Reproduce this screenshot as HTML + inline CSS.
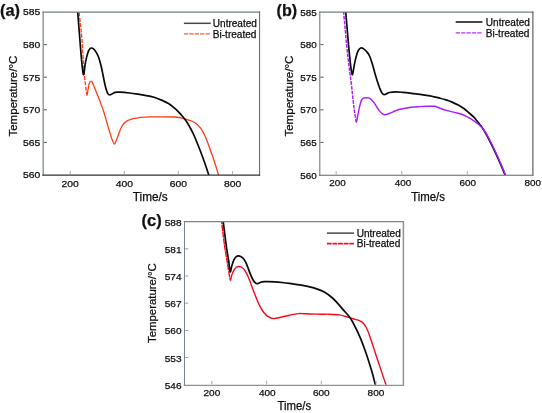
<!DOCTYPE html>
<html lang="en"><head><meta charset="utf-8"><title>Cooling curves: untreated vs Bi-treated</title>
<style>html,body{margin:0;padding:0;background:#fff;}body{width:542px;height:413px;overflow:hidden;}svg{display:block}</style>
</head><body>
<svg width="542" height="413" viewBox="0 0 542 413" font-family='"Liberation Sans", sans-serif' style="display:block">
<rect width="542" height="413" fill="#ffffff"/>
<clipPath id="clipa"><rect x="43.2" y="12.0" width="216.40000000000003" height="163.0"/></clipPath>
<g clip-path="url(#clipa)" fill="none" stroke-linejoin="round" stroke-linecap="butt">
<path d="M78.10,2.00 C78.27,3.67 78.68,8.00 79.10,12.00 C79.52,16.00 80.12,21.33 80.60,26.00 C81.08,30.67 81.62,35.33 82.00,40.00 C82.38,44.67 82.62,49.67 82.90,54.00 C83.18,58.33 83.43,62.22 83.70,66.00 C83.97,69.78 84.20,73.55 84.50,76.70 C84.80,79.85 85.18,82.43 85.50,84.90 C85.82,87.37 86.15,89.78 86.40,91.50 C86.65,93.22 86.73,95.47 87.00,95.20" stroke="#ff3c12" stroke-width="1.3" stroke-dasharray="4 1.3"/>
<path d="M87.00,95.20 C87.27,94.93 87.63,91.82 88.00,89.90 C88.37,87.98 88.72,85.15 89.20,83.70 C89.68,82.25 90.35,81.33 90.90,81.20 C91.45,81.07 91.88,81.80 92.50,82.90 C93.12,84.00 93.83,85.95 94.60,87.80 C95.37,89.65 96.28,91.97 97.10,94.00 C97.92,96.03 98.37,96.97 99.50,100.00 C100.63,103.03 102.65,108.37 103.90,112.20 C105.15,116.03 106.02,119.62 107.00,123.00 C107.98,126.38 108.92,129.67 109.80,132.50 C110.68,135.33 111.53,138.07 112.30,140.00 C113.07,141.93 113.68,144.18 114.40,144.10 C115.12,144.02 115.80,141.43 116.60,139.50 C117.40,137.57 118.38,134.58 119.20,132.50 C120.02,130.42 120.67,128.55 121.50,127.00 C122.33,125.45 123.20,124.27 124.20,123.20 C125.20,122.13 126.37,121.25 127.50,120.60 C128.63,119.95 129.58,119.70 131.00,119.30 C132.42,118.90 134.30,118.52 136.00,118.20 C137.70,117.88 138.87,117.62 141.20,117.40 C143.53,117.18 146.87,117.00 150.00,116.90 C153.13,116.80 155.97,116.78 160.00,116.80 C164.03,116.82 170.70,116.83 174.20,117.00 C177.70,117.17 178.98,117.43 181.00,117.80 C183.02,118.17 184.55,118.67 186.30,119.20 C188.05,119.73 189.88,120.27 191.50,121.00 C193.12,121.73 194.45,122.37 196.00,123.60 C197.55,124.83 199.47,126.67 200.80,128.40 C202.13,130.13 202.98,131.98 204.00,134.00 C205.02,136.02 205.62,137.20 206.90,140.50 C208.18,143.80 210.28,149.77 211.70,153.80 C213.12,157.83 214.27,161.17 215.40,164.70 C216.53,168.23 217.68,172.28 218.50,175.00 C219.32,177.72 220.00,180.00 220.30,181.00" stroke="#ff3c12" stroke-width="1.3"/>
<path d="M76.90,2.00 C77.03,3.67 77.38,8.00 77.70,12.00 C78.02,16.00 78.43,21.33 78.80,26.00 C79.17,30.67 79.50,35.00 79.90,40.00 C80.30,45.00 80.75,51.00 81.20,56.00 C81.65,61.00 82.23,66.88 82.60,70.00 C82.97,73.12 83.12,74.53 83.40,74.70 C83.68,74.87 84.02,72.67 84.30,71.00 C84.58,69.33 84.75,66.85 85.10,64.70 C85.45,62.55 85.92,60.15 86.40,58.10 C86.88,56.05 87.45,53.90 88.00,52.40 C88.55,50.90 89.15,49.83 89.70,49.10 C90.25,48.37 90.62,48.00 91.30,48.00 C91.98,48.00 92.98,48.37 93.80,49.10 C94.62,49.83 95.45,51.17 96.20,52.40 C96.95,53.63 97.68,55.00 98.30,56.50 C98.92,58.00 99.35,59.48 99.90,61.40 C100.45,63.32 101.12,65.90 101.60,68.00 C102.08,70.10 102.32,71.58 102.80,74.00 C103.28,76.42 103.95,79.98 104.50,82.50 C105.05,85.02 105.55,87.25 106.10,89.10 C106.65,90.95 107.18,92.62 107.80,93.60 C108.42,94.58 108.98,95.00 109.80,95.00 C110.62,95.00 111.80,94.05 112.70,93.60 C113.60,93.15 113.98,92.53 115.20,92.30 C116.42,92.07 117.65,92.08 120.00,92.20 C122.35,92.32 126.30,92.67 129.30,93.00 C132.30,93.33 135.17,93.77 138.00,94.20 C140.83,94.63 143.63,95.10 146.30,95.60 C148.97,96.10 151.37,96.40 154.00,97.20 C156.63,98.00 159.68,99.33 162.10,100.40 C164.52,101.47 166.48,102.37 168.50,103.60 C170.52,104.83 172.62,106.52 174.20,107.80 C175.78,109.08 176.78,110.08 178.00,111.30 C179.22,112.52 180.12,113.45 181.50,115.10 C182.88,116.75 184.88,119.13 186.30,121.20 C187.72,123.27 188.78,125.28 190.00,127.50 C191.22,129.72 192.00,130.92 193.60,134.50 C195.20,138.08 197.78,144.37 199.60,149.00 C201.42,153.63 202.97,157.97 204.50,162.30 C206.03,166.63 207.75,171.88 208.80,175.00 C209.85,178.12 210.47,180.00 210.80,181.00" stroke="#0a0a0a" stroke-width="1.7"/>
</g>
<line x1="43.2" y1="11.5" x2="43.2" y2="175.65" stroke="#87959a" stroke-width="1.4"/>
<line x1="42.5" y1="12.0" x2="260.1" y2="12.0" stroke="#727f82" stroke-width="1.25"/>
<line x1="259.6" y1="11.5" x2="259.6" y2="175.65" stroke="#59636a" stroke-width="1.0"/>
<line x1="42.300000000000004" y1="175.15" x2="260.1" y2="175.15" stroke="#2c3439" stroke-width="1.15"/>
<text x="40.20" y="15.30" font-size="9.7" text-anchor="end" fill="#0d0d0d" stroke="#0d0d0d" stroke-width="0.25" textLength="17.30" lengthAdjust="spacingAndGlyphs">585</text>
<line x1="43.800000000000004" y1="44.60" x2="47.0" y2="44.60" stroke="#30363a" stroke-width="0.8"/>
<text x="40.20" y="47.90" font-size="9.7" text-anchor="end" fill="#0d0d0d" stroke="#0d0d0d" stroke-width="0.25" textLength="17.30" lengthAdjust="spacingAndGlyphs">580</text>
<line x1="43.800000000000004" y1="77.20" x2="47.0" y2="77.20" stroke="#30363a" stroke-width="0.8"/>
<text x="40.20" y="80.50" font-size="9.7" text-anchor="end" fill="#0d0d0d" stroke="#0d0d0d" stroke-width="0.25" textLength="17.30" lengthAdjust="spacingAndGlyphs">575</text>
<line x1="43.800000000000004" y1="109.80" x2="47.0" y2="109.80" stroke="#30363a" stroke-width="0.8"/>
<text x="40.20" y="113.10" font-size="9.7" text-anchor="end" fill="#0d0d0d" stroke="#0d0d0d" stroke-width="0.25" textLength="17.30" lengthAdjust="spacingAndGlyphs">570</text>
<line x1="43.800000000000004" y1="142.40" x2="47.0" y2="142.40" stroke="#30363a" stroke-width="0.8"/>
<text x="40.20" y="145.70" font-size="9.7" text-anchor="end" fill="#0d0d0d" stroke="#0d0d0d" stroke-width="0.25" textLength="17.30" lengthAdjust="spacingAndGlyphs">565</text>
<text x="40.20" y="178.30" font-size="9.7" text-anchor="end" fill="#0d0d0d" stroke="#0d0d0d" stroke-width="0.25" textLength="17.30" lengthAdjust="spacingAndGlyphs">560</text>
<line x1="70.25" y1="171.0" x2="70.25" y2="174.5" stroke="#8b9ba1" stroke-width="0.8"/>
<text x="70.25" y="186.75" font-size="9.7" text-anchor="middle" fill="#0d0d0d" stroke="#0d0d0d" stroke-width="0.25" textLength="17.30" lengthAdjust="spacingAndGlyphs">200</text>
<line x1="124.35" y1="171.0" x2="124.35" y2="174.5" stroke="#8b9ba1" stroke-width="0.8"/>
<text x="124.35" y="186.75" font-size="9.7" text-anchor="middle" fill="#0d0d0d" stroke="#0d0d0d" stroke-width="0.25" textLength="17.30" lengthAdjust="spacingAndGlyphs">400</text>
<line x1="178.45" y1="171.0" x2="178.45" y2="174.5" stroke="#8b9ba1" stroke-width="0.8"/>
<text x="178.45" y="186.75" font-size="9.7" text-anchor="middle" fill="#0d0d0d" stroke="#0d0d0d" stroke-width="0.25" textLength="17.30" lengthAdjust="spacingAndGlyphs">600</text>
<line x1="232.55" y1="171.0" x2="232.55" y2="174.5" stroke="#8b9ba1" stroke-width="0.8"/>
<text x="232.55" y="186.75" font-size="9.7" text-anchor="middle" fill="#0d0d0d" stroke="#0d0d0d" stroke-width="0.25" textLength="17.30" lengthAdjust="spacingAndGlyphs">800</text>
<text x="150.30" y="200.80" font-size="11.9" text-anchor="middle" fill="#0d0d0d" stroke="#0d0d0d" stroke-width="0.25" textLength="34.90" lengthAdjust="spacingAndGlyphs">Time/s</text>
<text x="16.85" y="136.60" font-size="11.4" text-anchor="start" fill="#0d0d0d" stroke="#0d0d0d" stroke-width="0.25" textLength="81.00" lengthAdjust="spacingAndGlyphs" transform="rotate(-90 16.85 136.60)">Temperature/°C</text>
<text x="0.00" y="15.80" font-size="15.7" text-anchor="start" fill="#111" stroke="#111" stroke-width="0.25" font-weight="bold" textLength="20.10" lengthAdjust="spacingAndGlyphs">(a)</text>
<line x1="183.9" y1="23.3" x2="210.8" y2="23.3" stroke="#45494d" stroke-width="1.5"/>
<line x1="183.9" y1="33.9" x2="210.8" y2="33.9" stroke="#ff5a30" stroke-width="1.35" stroke-dasharray="4.3 1.1"/>
<text x="212.80" y="26.90" font-size="10.0" text-anchor="start" fill="#0d0d0d" stroke="#0d0d0d" stroke-width="0.25" textLength="44.10" lengthAdjust="spacingAndGlyphs">Untreated</text>
<text x="212.80" y="37.50" font-size="10.0" text-anchor="start" fill="#0d0d0d" stroke="#0d0d0d" stroke-width="0.25" textLength="43.60" lengthAdjust="spacingAndGlyphs">Bi-treated</text>
<clipPath id="clipb"><rect x="319.8" y="12.0" width="213.09999999999997" height="163.0"/></clipPath>
<g clip-path="url(#clipb)" fill="none" stroke-linejoin="round" stroke-linecap="butt">
<path d="M344.90,2.00 C345.03,3.67 345.35,7.83 345.70,12.00 C346.05,16.17 346.58,22.17 347.00,27.00 C347.42,31.83 347.77,36.17 348.20,41.00 C348.63,45.83 349.10,51.17 349.60,56.00 C350.10,60.83 350.77,66.92 351.20,70.00 C351.63,73.08 351.92,74.00 352.20,74.50 C352.48,75.00 352.52,74.77 352.90,73.00 C353.28,71.23 353.95,66.65 354.50,63.90 C355.05,61.15 355.58,58.70 356.20,56.50 C356.82,54.30 357.45,52.12 358.20,50.70 C358.95,49.28 359.73,48.27 360.70,48.00 C361.67,47.73 362.90,48.37 364.00,49.10 C365.10,49.83 366.33,51.17 367.30,52.40 C368.27,53.63 369.05,54.87 369.80,56.50 C370.55,58.13 371.18,60.28 371.80,62.20 C372.42,64.12 372.95,66.03 373.50,68.00 C374.05,69.97 374.52,71.97 375.10,74.00 C375.68,76.03 376.18,77.72 377.00,80.20 C377.82,82.68 379.15,86.73 380.00,88.90 C380.85,91.07 381.38,92.23 382.10,93.20 C382.82,94.17 383.52,94.63 384.30,94.70 C385.08,94.77 385.95,93.97 386.80,93.60 C387.65,93.23 387.87,92.78 389.40,92.50 C390.93,92.22 393.73,91.92 396.00,91.90 C398.27,91.88 400.47,92.17 403.00,92.40 C405.53,92.63 408.37,92.97 411.20,93.30 C414.03,93.63 416.87,93.97 420.00,94.40 C423.13,94.83 426.67,95.27 430.00,95.90 C433.33,96.53 437.32,97.53 440.00,98.20 C442.68,98.87 444.08,99.25 446.10,99.90 C448.12,100.55 450.08,101.23 452.10,102.10 C454.12,102.97 456.18,103.98 458.20,105.10 C460.22,106.22 462.38,107.48 464.20,108.80 C466.02,110.12 467.48,111.60 469.10,113.00 C470.72,114.40 472.50,115.78 473.90,117.20 C475.30,118.62 476.28,119.98 477.50,121.50 C478.72,123.02 479.98,124.58 481.20,126.30 C482.42,128.02 483.60,129.78 484.80,131.80 C486.00,133.82 486.63,134.93 488.40,138.40 C490.17,141.87 493.43,148.42 495.40,152.60 C497.37,156.78 498.60,159.78 500.20,163.50 C501.80,167.22 503.80,171.98 505.00,174.90 C506.20,177.82 507.00,179.98 507.40,181.00" stroke="#0a0a0a" stroke-width="1.7"/>
<path d="M342.70,2.00 C342.85,3.67 343.22,7.83 343.60,12.00 C343.98,16.17 344.55,22.17 345.00,27.00 C345.45,31.83 345.85,36.33 346.30,41.00 C346.75,45.67 347.25,50.83 347.70,55.00 C348.15,59.17 348.62,62.83 349.00,66.00 C349.38,69.17 349.57,70.67 350.00,74.00 C350.43,77.33 350.97,80.62 351.60,86.00 C352.23,91.38 353.18,101.22 353.80,106.30 C354.42,111.38 354.88,113.83 355.30,116.50 C355.72,119.17 355.92,122.38 356.30,122.30" stroke="#a91cff" stroke-width="1.45" stroke-dasharray="3.6 1.1"/>
<path d="M356.30,122.30 C356.68,122.22 357.22,117.83 357.60,116.00 C357.98,114.17 358.22,113.07 358.60,111.30 C358.98,109.53 359.45,107.18 359.90,105.40 C360.35,103.62 360.75,101.80 361.30,100.60 C361.85,99.40 362.37,98.67 363.20,98.20 C364.03,97.73 365.27,97.80 366.30,97.80 C367.33,97.80 368.33,97.68 369.40,98.20 C370.47,98.72 371.68,99.80 372.70,100.90 C373.72,102.00 374.38,103.13 375.50,104.80 C376.62,106.47 378.28,109.43 379.40,110.90 C380.52,112.37 381.27,112.97 382.20,113.60 C383.13,114.23 383.55,114.82 385.00,114.70 C386.45,114.58 389.23,113.52 390.90,112.90 C392.57,112.28 393.48,111.60 395.00,111.00 C396.52,110.40 397.30,109.92 400.00,109.30 C402.70,108.68 408.03,107.75 411.20,107.30 C414.37,106.85 416.30,106.77 419.00,106.60 C421.70,106.43 424.77,106.35 427.40,106.30 C430.03,106.25 433.12,106.15 434.80,106.30 C436.48,106.45 436.63,106.88 437.50,107.20 C438.37,107.52 438.37,107.63 440.00,108.20 C441.63,108.77 444.88,109.90 447.30,110.60 C449.72,111.30 452.08,111.80 454.50,112.40 C456.92,113.00 459.58,113.40 461.80,114.20 C464.02,115.00 465.78,116.08 467.80,117.20 C469.82,118.32 472.08,119.68 473.90,120.90 C475.72,122.12 477.38,123.40 478.70,124.50 C480.02,125.60 480.69,126.25 481.80,127.50 C482.91,128.75 484.15,130.17 485.35,132.00 C486.55,133.83 487.23,135.05 489.00,138.50 C490.77,141.95 493.99,148.52 495.95,152.70 C497.91,156.88 499.15,159.88 500.75,163.60 C502.35,167.32 504.35,172.10 505.55,175.00 C506.75,177.90 507.55,180.00 507.95,181.00" stroke="#a91cff" stroke-width="1.45"/>
</g>
<line x1="319.8" y1="11.5" x2="319.8" y2="175.65" stroke="#6f7c80" stroke-width="1.1"/>
<line x1="319.1" y1="12.0" x2="533.4" y2="12.0" stroke="#727f82" stroke-width="1.25"/>
<line x1="532.9" y1="11.5" x2="532.9" y2="175.65" stroke="#39434a" stroke-width="1.0"/>
<line x1="318.90000000000003" y1="175.15" x2="533.4" y2="175.15" stroke="#5c666b" stroke-width="1.05"/>
<text x="316.80" y="15.50" font-size="9.7" text-anchor="end" fill="#0d0d0d" stroke="#0d0d0d" stroke-width="0.25" textLength="16.50" lengthAdjust="spacingAndGlyphs">585</text>
<line x1="320.40000000000003" y1="44.60" x2="323.6" y2="44.60" stroke="#30363a" stroke-width="0.8"/>
<text x="316.80" y="48.10" font-size="9.7" text-anchor="end" fill="#0d0d0d" stroke="#0d0d0d" stroke-width="0.25" textLength="16.50" lengthAdjust="spacingAndGlyphs">580</text>
<line x1="320.40000000000003" y1="77.20" x2="323.6" y2="77.20" stroke="#30363a" stroke-width="0.8"/>
<text x="316.80" y="80.70" font-size="9.7" text-anchor="end" fill="#0d0d0d" stroke="#0d0d0d" stroke-width="0.25" textLength="16.50" lengthAdjust="spacingAndGlyphs">575</text>
<line x1="320.40000000000003" y1="109.80" x2="323.6" y2="109.80" stroke="#30363a" stroke-width="0.8"/>
<text x="316.80" y="113.30" font-size="9.7" text-anchor="end" fill="#0d0d0d" stroke="#0d0d0d" stroke-width="0.25" textLength="16.50" lengthAdjust="spacingAndGlyphs">570</text>
<line x1="320.40000000000003" y1="142.40" x2="323.6" y2="142.40" stroke="#30363a" stroke-width="0.8"/>
<text x="316.80" y="145.90" font-size="9.7" text-anchor="end" fill="#0d0d0d" stroke="#0d0d0d" stroke-width="0.25" textLength="16.50" lengthAdjust="spacingAndGlyphs">565</text>
<text x="316.80" y="178.50" font-size="9.7" text-anchor="end" fill="#0d0d0d" stroke="#0d0d0d" stroke-width="0.25" textLength="16.50" lengthAdjust="spacingAndGlyphs">560</text>
<line x1="336.19" y1="171.0" x2="336.19" y2="174.5" stroke="#8b9ba1" stroke-width="0.8"/>
<text x="337.50" y="186.30" font-size="9.7" text-anchor="middle" fill="#0d0d0d" stroke="#0d0d0d" stroke-width="0.25" textLength="16.50" lengthAdjust="spacingAndGlyphs">200</text>
<line x1="401.76" y1="171.0" x2="401.76" y2="174.5" stroke="#8b9ba1" stroke-width="0.8"/>
<text x="403.00" y="186.30" font-size="9.7" text-anchor="middle" fill="#0d0d0d" stroke="#0d0d0d" stroke-width="0.25" textLength="16.50" lengthAdjust="spacingAndGlyphs">400</text>
<line x1="467.33" y1="171.0" x2="467.33" y2="174.5" stroke="#8b9ba1" stroke-width="0.8"/>
<text x="467.80" y="186.30" font-size="9.7" text-anchor="middle" fill="#0d0d0d" stroke="#0d0d0d" stroke-width="0.25" textLength="16.50" lengthAdjust="spacingAndGlyphs">600</text>
<line x1="532.90" y1="171.0" x2="532.90" y2="174.5" stroke="#8b9ba1" stroke-width="0.8"/>
<text x="532.70" y="186.30" font-size="9.7" text-anchor="middle" fill="#0d0d0d" stroke="#0d0d0d" stroke-width="0.25" textLength="16.50" lengthAdjust="spacingAndGlyphs">800</text>
<text x="428.10" y="200.80" font-size="11.9" text-anchor="middle" fill="#0d0d0d" stroke="#0d0d0d" stroke-width="0.25" textLength="33.80" lengthAdjust="spacingAndGlyphs">Time/s</text>
<text x="292.90" y="136.60" font-size="11.4" text-anchor="start" fill="#0d0d0d" stroke="#0d0d0d" stroke-width="0.25" textLength="81.00" lengthAdjust="spacingAndGlyphs" transform="rotate(-90 292.90 136.60)">Temperature/°C</text>
<text x="276.60" y="15.80" font-size="15.7" text-anchor="start" fill="#111" stroke="#111" stroke-width="0.25" font-weight="bold" textLength="20.60" lengthAdjust="spacingAndGlyphs">(b)</text>
<line x1="455.7" y1="22.0" x2="482.4" y2="22.0" stroke="#0a0a0a" stroke-width="1.5"/>
<line x1="455.7" y1="32.8" x2="482.4" y2="32.8" stroke="#b432ff" stroke-width="1.35" stroke-dasharray="4.3 1.1"/>
<text x="485.80" y="25.90" font-size="10.0" text-anchor="start" fill="#0d0d0d" stroke="#0d0d0d" stroke-width="0.25" textLength="44.10" lengthAdjust="spacingAndGlyphs">Untreated</text>
<text x="485.80" y="36.50" font-size="10.0" text-anchor="start" fill="#0d0d0d" stroke="#0d0d0d" stroke-width="0.25" textLength="43.60" lengthAdjust="spacingAndGlyphs">Bi-treated</text>
<clipPath id="clipc"><rect x="184.5" y="221.6" width="218.89999999999998" height="163.20000000000002"/></clipPath>
<g clip-path="url(#clipc)" fill="none" stroke-linejoin="round" stroke-linecap="butt">
<path d="M220.20,212.00 C220.43,213.58 221.08,217.50 221.60,221.50 C222.12,225.50 222.75,231.58 223.30,236.00 C223.85,240.42 224.27,243.80 224.90,248.00 C225.53,252.20 226.38,256.80 227.10,261.20 C227.82,265.60 228.65,271.18 229.20,274.40 C229.75,277.62 229.98,280.33 230.40,280.50" stroke="#f80818" stroke-width="1.4" stroke-dasharray="6 0.6"/>
<path d="M230.40,280.50 C230.82,280.67 231.13,277.08 231.70,275.40 C232.27,273.72 233.03,271.75 233.80,270.40 C234.57,269.05 235.47,267.95 236.30,267.30 C237.13,266.65 237.78,266.42 238.80,266.50 C239.82,266.58 241.30,266.98 242.40,267.80 C243.50,268.62 244.38,269.78 245.40,271.40 C246.42,273.02 247.62,275.52 248.50,277.50 C249.38,279.48 249.62,280.43 250.70,283.30 C251.78,286.17 253.52,290.98 255.00,294.70 C256.48,298.42 258.10,302.60 259.60,305.60 C261.10,308.60 262.57,310.87 264.00,312.70 C265.43,314.53 266.60,315.62 268.20,316.60 C269.80,317.58 271.50,318.48 273.60,318.60 C275.70,318.72 278.15,317.87 280.80,317.30 C283.45,316.73 286.60,315.82 289.50,315.20 C292.40,314.58 295.78,313.85 298.20,313.60 C300.62,313.35 302.03,313.63 304.00,313.70 C305.97,313.77 307.08,313.92 310.00,314.00 C312.92,314.08 318.33,314.17 321.50,314.20 C324.67,314.23 326.05,314.08 329.00,314.20 C331.95,314.32 336.53,314.55 339.20,314.90 C341.87,315.25 343.07,315.77 345.00,316.30 C346.93,316.83 349.13,317.60 350.80,318.10 C352.47,318.60 353.57,318.87 355.00,319.30 C356.43,319.73 358.02,320.05 359.40,320.70 C360.78,321.35 362.17,322.07 363.30,323.20 C364.43,324.33 365.23,325.67 366.20,327.50 C367.17,329.33 367.97,331.13 369.10,334.20 C370.23,337.27 371.72,342.02 373.00,345.90 C374.28,349.78 375.52,353.63 376.80,357.50 C378.08,361.37 379.57,365.70 380.70,369.10 C381.83,372.50 382.72,375.30 383.60,377.90 C384.48,380.50 385.18,382.35 386.00,384.70 C386.82,387.05 388.08,390.78 388.50,392.00" stroke="#f80818" stroke-width="1.4"/>
<path d="M221.90,212.00 C222.12,213.58 222.68,217.50 223.20,221.50 C223.72,225.50 224.43,231.58 225.00,236.00 C225.57,240.42 225.98,243.80 226.60,248.00 C227.22,252.20 228.10,257.22 228.70,261.20 C229.30,265.18 229.70,271.05 230.20,271.90 C230.70,272.75 231.10,268.25 231.70,266.30 C232.30,264.35 233.03,261.82 233.80,260.20 C234.57,258.58 235.47,257.32 236.30,256.60 C237.13,255.88 237.78,255.72 238.80,255.90 C239.82,256.08 241.30,256.73 242.40,257.70 C243.50,258.67 244.47,260.02 245.40,261.70 C246.33,263.38 247.15,265.68 248.00,267.80 C248.85,269.92 249.65,272.37 250.50,274.40 C251.35,276.43 252.25,278.55 253.10,280.00 C253.95,281.45 254.85,282.50 255.60,283.10 C256.35,283.70 256.53,283.82 257.60,283.60 C258.67,283.38 260.27,282.12 262.00,281.80 C263.73,281.48 265.83,281.68 268.00,281.70 C270.17,281.72 272.67,281.77 275.00,281.90 C277.33,282.03 279.58,282.25 282.00,282.50 C284.42,282.75 286.30,282.95 289.50,283.40 C292.70,283.85 298.00,284.65 301.20,285.20 C304.40,285.75 306.00,286.05 308.70,286.70 C311.40,287.35 314.73,288.17 317.40,289.10 C320.07,290.03 322.28,290.90 324.70,292.30 C327.12,293.70 329.73,295.67 331.90,297.50 C334.07,299.33 335.77,301.20 337.70,303.30 C339.63,305.40 341.43,307.68 343.50,310.10 C345.57,312.52 348.10,314.90 350.10,317.80 C352.10,320.70 353.78,324.12 355.50,327.50 C357.22,330.88 358.78,334.23 360.40,338.10 C362.02,341.97 363.75,346.65 365.20,350.70 C366.65,354.75 367.87,358.52 369.10,362.40 C370.33,366.28 371.57,370.28 372.60,374.00 C373.63,377.72 374.52,381.70 375.30,384.70 C376.08,387.70 376.97,390.78 377.30,392.00" stroke="#0a0a0a" stroke-width="1.7"/>
</g>
<line x1="184.5" y1="221.1" x2="184.5" y2="385.8" stroke="#76868a" stroke-width="1.05"/>
<line x1="183.8" y1="221.6" x2="403.9" y2="221.6" stroke="#7a878a" stroke-width="1.2"/>
<line x1="403.4" y1="221.1" x2="403.4" y2="385.8" stroke="#88949a" stroke-width="1.5"/>
<line x1="183.6" y1="385.3" x2="403.9" y2="385.3" stroke="#88949a" stroke-width="1.2"/>
<text x="181.50" y="225.60" font-size="9.7" text-anchor="end" fill="#0d0d0d" stroke="#0d0d0d" stroke-width="0.25" textLength="16.80" lengthAdjust="spacingAndGlyphs">588</text>
<line x1="185.1" y1="248.80" x2="188.3" y2="248.80" stroke="#7c898d" stroke-width="0.8"/>
<text x="181.50" y="252.80" font-size="9.7" text-anchor="end" fill="#0d0d0d" stroke="#0d0d0d" stroke-width="0.25" textLength="16.80" lengthAdjust="spacingAndGlyphs">581</text>
<line x1="185.1" y1="276.00" x2="188.3" y2="276.00" stroke="#7c898d" stroke-width="0.8"/>
<text x="181.50" y="280.00" font-size="9.7" text-anchor="end" fill="#0d0d0d" stroke="#0d0d0d" stroke-width="0.25" textLength="16.80" lengthAdjust="spacingAndGlyphs">574</text>
<line x1="185.1" y1="303.20" x2="188.3" y2="303.20" stroke="#7c898d" stroke-width="0.8"/>
<text x="181.50" y="307.20" font-size="9.7" text-anchor="end" fill="#0d0d0d" stroke="#0d0d0d" stroke-width="0.25" textLength="16.80" lengthAdjust="spacingAndGlyphs">567</text>
<line x1="185.1" y1="330.40" x2="188.3" y2="330.40" stroke="#7c898d" stroke-width="0.8"/>
<text x="181.50" y="334.40" font-size="9.7" text-anchor="end" fill="#0d0d0d" stroke="#0d0d0d" stroke-width="0.25" textLength="16.80" lengthAdjust="spacingAndGlyphs">560</text>
<line x1="185.1" y1="357.60" x2="188.3" y2="357.60" stroke="#7c898d" stroke-width="0.8"/>
<text x="181.50" y="361.60" font-size="9.7" text-anchor="end" fill="#0d0d0d" stroke="#0d0d0d" stroke-width="0.25" textLength="16.80" lengthAdjust="spacingAndGlyphs">553</text>
<text x="181.50" y="388.80" font-size="9.7" text-anchor="end" fill="#0d0d0d" stroke="#0d0d0d" stroke-width="0.25" textLength="16.80" lengthAdjust="spacingAndGlyphs">546</text>
<line x1="211.86" y1="380.8" x2="211.86" y2="384.3" stroke="#8b9ba1" stroke-width="0.8"/>
<text x="211.86" y="396.00" font-size="9.7" text-anchor="middle" fill="#0d0d0d" stroke="#0d0d0d" stroke-width="0.25" textLength="16.80" lengthAdjust="spacingAndGlyphs">200</text>
<line x1="266.59" y1="380.8" x2="266.59" y2="384.3" stroke="#8b9ba1" stroke-width="0.8"/>
<text x="267.30" y="396.00" font-size="9.7" text-anchor="middle" fill="#0d0d0d" stroke="#0d0d0d" stroke-width="0.25" textLength="16.80" lengthAdjust="spacingAndGlyphs">400</text>
<line x1="321.31" y1="380.8" x2="321.31" y2="384.3" stroke="#8b9ba1" stroke-width="0.8"/>
<text x="321.31" y="396.00" font-size="9.7" text-anchor="middle" fill="#0d0d0d" stroke="#0d0d0d" stroke-width="0.25" textLength="16.80" lengthAdjust="spacingAndGlyphs">600</text>
<line x1="376.04" y1="380.8" x2="376.04" y2="384.3" stroke="#8b9ba1" stroke-width="0.8"/>
<text x="376.04" y="396.00" font-size="9.7" text-anchor="middle" fill="#0d0d0d" stroke="#0d0d0d" stroke-width="0.25" textLength="16.80" lengthAdjust="spacingAndGlyphs">800</text>
<text x="294.30" y="410.20" font-size="11.9" text-anchor="middle" fill="#0d0d0d" stroke="#0d0d0d" stroke-width="0.25" textLength="33.60" lengthAdjust="spacingAndGlyphs">Time/s</text>
<text x="155.60" y="342.90" font-size="11.4" text-anchor="start" fill="#0d0d0d" stroke="#0d0d0d" stroke-width="0.25" textLength="79.60" lengthAdjust="spacingAndGlyphs" transform="rotate(-90 155.60 342.90)">Temperature/°C</text>
<text x="141.50" y="225.70" font-size="15.7" text-anchor="start" fill="#111" stroke="#111" stroke-width="0.25" font-weight="bold" textLength="20.20" lengthAdjust="spacingAndGlyphs">(c)</text>
<line x1="326.9" y1="233.1" x2="354.1" y2="233.1" stroke="#1a1a1a" stroke-width="1.2"/>
<line x1="326.9" y1="243.7" x2="354.1" y2="243.7" stroke="#f5101e" stroke-width="1.7" stroke-dasharray="4.8 0.8"/>
<text x="356.70" y="236.60" font-size="10.0" text-anchor="start" fill="#0d0d0d" stroke="#0d0d0d" stroke-width="0.25" textLength="44.10" lengthAdjust="spacingAndGlyphs">Untreated</text>
<text x="356.70" y="247.40" font-size="10.0" text-anchor="start" fill="#0d0d0d" stroke="#0d0d0d" stroke-width="0.25" textLength="43.60" lengthAdjust="spacingAndGlyphs">Bi-treated</text>
</svg>
</body></html>
